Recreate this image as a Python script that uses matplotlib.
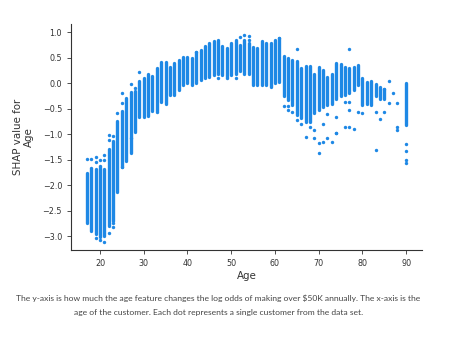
import matplotlib
matplotlib.use("Agg")
import matplotlib.pyplot as plt

# dense columns: age, lowest and highest SHAP value
col_age = [17, 18, 19, 20, 21, 22, 23, 24, 25, 26, 27, 28, 29, 30, 31, 32, 33, 34, 35,
           36, 37, 38, 39, 40, 41, 42, 43, 44, 45, 46, 47, 48, 49, 50, 51, 52, 53, 54,
           55, 56, 57, 58, 59, 60, 61, 62, 63, 64, 65, 66, 67, 68, 69, 70, 71, 72, 73,
           74, 75, 76, 77, 78, 79, 80, 81, 82, 83, 84, 85, 90]
col_low = [-2.74, -2.89, -2.95, -3.02, -3.00, -2.79, -2.69, -2.14, -1.65, -1.52, -1.36,
           -0.96, -0.67, -0.66, -0.64, -0.55, -0.55, -0.36, -0.40, -0.23, -0.23, -0.13,
           -0.04, 0.00, -0.04, 0.00, 0.06, 0.10, 0.13, 0.16, 0.19, 0.16, 0.13, 0.16,
           0.19, 0.23, 0.19, 0.19, -0.04, -0.04, -0.04, -0.04, -0.07, 0.00, 0.03, -0.26,
           -0.33, -0.43, -0.62, -0.69, -0.76, -0.76, -0.59, -0.53, -0.46, -0.43, -0.40,
           -0.30, -0.26, -0.23, -0.20, -0.13, -0.04, -0.43, -0.40, -0.43, -0.26, -0.30,
           -0.30, -0.81]
col_high = [-1.75, -1.68, -1.68, -1.65, -1.68, -1.29, -1.13, -0.74, -0.54, -0.28, -0.18,
            -0.15, 0.05, 0.10, 0.19, 0.14, 0.29, 0.42, 0.42, 0.32, 0.39, 0.46, 0.52,
            0.52, 0.49, 0.62, 0.65, 0.72, 0.78, 0.82, 0.85, 0.72, 0.69, 0.78, 0.85,
            0.75, 0.85, 0.78, 0.70, 0.68, 0.82, 0.78, 0.78, 0.85, 0.88, 0.54, 0.50, 0.46,
            0.44, 0.29, 0.34, 0.34, 0.19, 0.31, 0.26, 0.13, 0.19, 0.40, 0.37, 0.32, 0.30,
            0.32, 0.36, 0.10, 0.03, 0.04, -0.02, -0.07, -0.12, 0.00]

# single customers standing apart from the columns
dot_age = [17, 18, 18, 19, 19, 20, 20, 21, 21, 19, 20, 21, 22, 22, 23, 22, 23, 23, 24,
           25, 25, 25, 27, 27, 28, 29, 33, 42, 47, 49, 51, 52, 53, 54, 54, 61, 65,
           62, 63, 63, 64, 65, 66, 67, 68, 69, 69, 70, 70, 71, 71, 72, 72, 73, 74, 74,
           74, 76, 77, 77, 76, 77, 78, 79, 80, 83, 84, 83, 85, 85, 86, 86, 87, 88, 88,
           88, 77, 90, 90, 90, 90]
dot_shap = [-1.49, -1.49, -1.66, -1.45, -1.55, -1.51, -1.63, -1.40, -1.51, -3.03, -3.08,
            -3.11, -1.02, -1.12, -1.04, -2.93, -2.74, -2.82, -0.59, -0.20, -0.39, -1.64,
            -0.02, -1.08, -0.10, 0.21, -0.57, 0.62, 0.10, 0.10, 0.10, 0.90, 0.95, 0.93,
            0.85, 0.88, 0.67, -0.45, -0.45, -0.52, -0.56, -0.73, -0.79, -1.06, -0.85,
            -1.08, -0.92, -1.18, -1.36, -0.79, -1.15, -1.07, -0.60, -1.15, -0.98, -0.66,
            -0.97, -0.36, -0.36, -0.53, -0.85, -0.85, -0.90, -0.56, -0.59, -0.57, -0.71,
            -1.31, -0.56, -0.12, -0.38, 0.05, -0.20, -0.38, -0.85, -0.91, 0.67, -1.20,
            -1.33, -1.51, -1.57]

blue = '#1E88E5'

fig = plt.figure(figsize=(4.74, 3.38), dpi=100)
ax = fig.add_axes([0.150, 0.260, 0.740, 0.669])

ax.vlines(col_age, col_low, col_high, colors=blue, linewidth=2.4, capstyle='round')
ax.scatter(dot_age, dot_shap, s=6, color=blue, linewidths=0)

ax.set_xlim(13.4, 93.6)
ax.set_ylim(-3.27, 1.16)
ax.set_xticks([20, 30, 40, 50, 60, 70, 80, 90])
ax.set_yticks([1.0, 0.5, 0.0, -0.5, -1.0, -1.5, -2.0, -2.5, -3.0])

for s in ['top', 'right']:
    ax.spines[s].set_visible(False)
for s in ['left', 'bottom']:
    ax.spines[s].set_color('#333333')
    ax.spines[s].set_linewidth(0.8)
ax.tick_params(labelsize=5.8, colors='#333333', length=3, width=0.6)
ax.set_xlabel('Age', fontsize=7.4, color='#333333', labelpad=2)
ax.set_ylabel('SHAP value for\nAge', fontsize=7.4, color='#333333', labelpad=6)

cap1 = 'The y-axis is how much the age feature changes the log odds of making over $50K annually. The x-axis is the'
cap2 = 'age of the customer. Each dot represents a single customer from the data set.'
fig.text(0.461, 0.118, cap1, ha='center', va='center', fontsize=6.1, family='Lato', color='#444444')
fig.text(0.461, 0.074, cap2, ha='center', va='center', fontsize=6.1, family='Lato', color='#444444')

fig.savefig('out.png', dpi=100)
